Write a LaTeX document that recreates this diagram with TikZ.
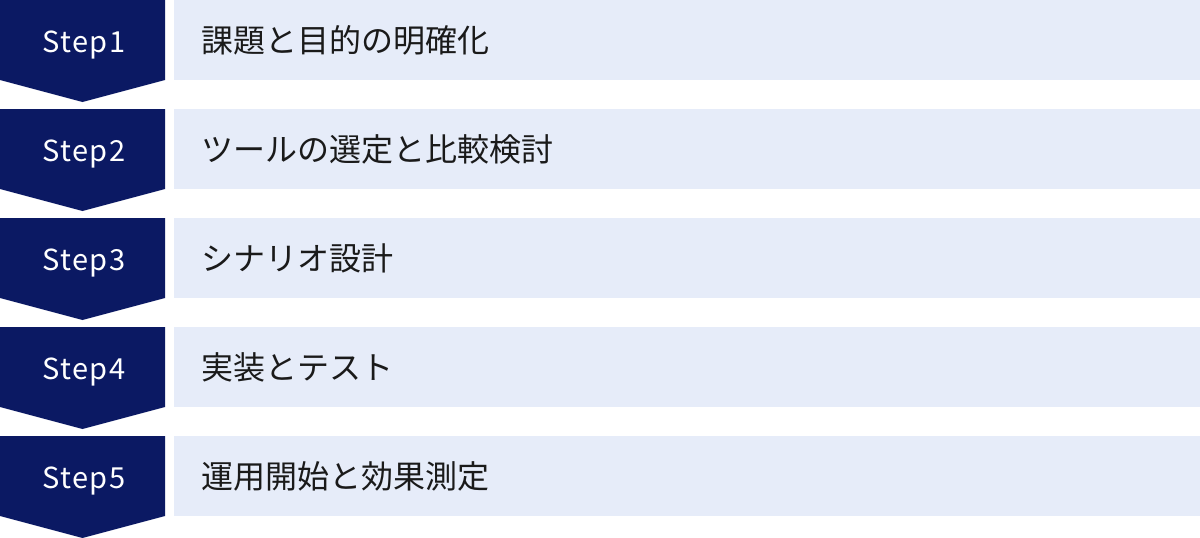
\documentclass[tikz,border=0pt]{standalone}
\usepackage{fontspec}
\setmainfont{Noto Sans}
\newfontfamily\jp{Noto Sans CJK JP}
\newfontfamily\jpstep[LetterSpace=5]{Noto Sans CJK JP}
\definecolor{navy}{HTML}{0B1963}
\definecolor{barbg}{HTML}{E6ECF9}
\definecolor{txt}{HTML}{1A1A1A}
\tikzset{
  stepchev/.style={fill=navy, draw=none},
  barbox/.style={fill=barbg, draw=none},
  steplabel/.style={text=white, font=\jpstep\fontsize{29}{32}\selectfont, anchor=base, inner sep=0pt},
  barlabel/.style={text=txt, font=\jp\fontsize{32}{36}\selectfont, anchor=west, inner sep=0pt},
}
\begin{document}
\begin{tikzpicture}[x=1pt,y=-1pt]
\useasboundingbox (0,0) rectangle (1200,538);
\foreach \i/\t in {0/課題と目的の明確化,1/ツールの選定と比較検討,2/シナリオ設計,3/実装とテスト,4/運用開始と効果測定}{
  \pgfmathsetmacro{\yy}{\i*109}
  \fill[stepchev] (0,\yy) -- (165,\yy) -- (165,\yy+80) -- (82.5,\yy+102) -- (0,\yy+80) -- cycle;
  \fill[barbox] (174,\yy) rectangle (1200,\yy+80);
  \node[steplabel] (s\i) at (84,\yy+52) {Step\the\numexpr\i+1\relax};
  \node[barlabel] (b\i) at (201,\yy+40) {\t};
}
\end{tikzpicture}
\end{document}
